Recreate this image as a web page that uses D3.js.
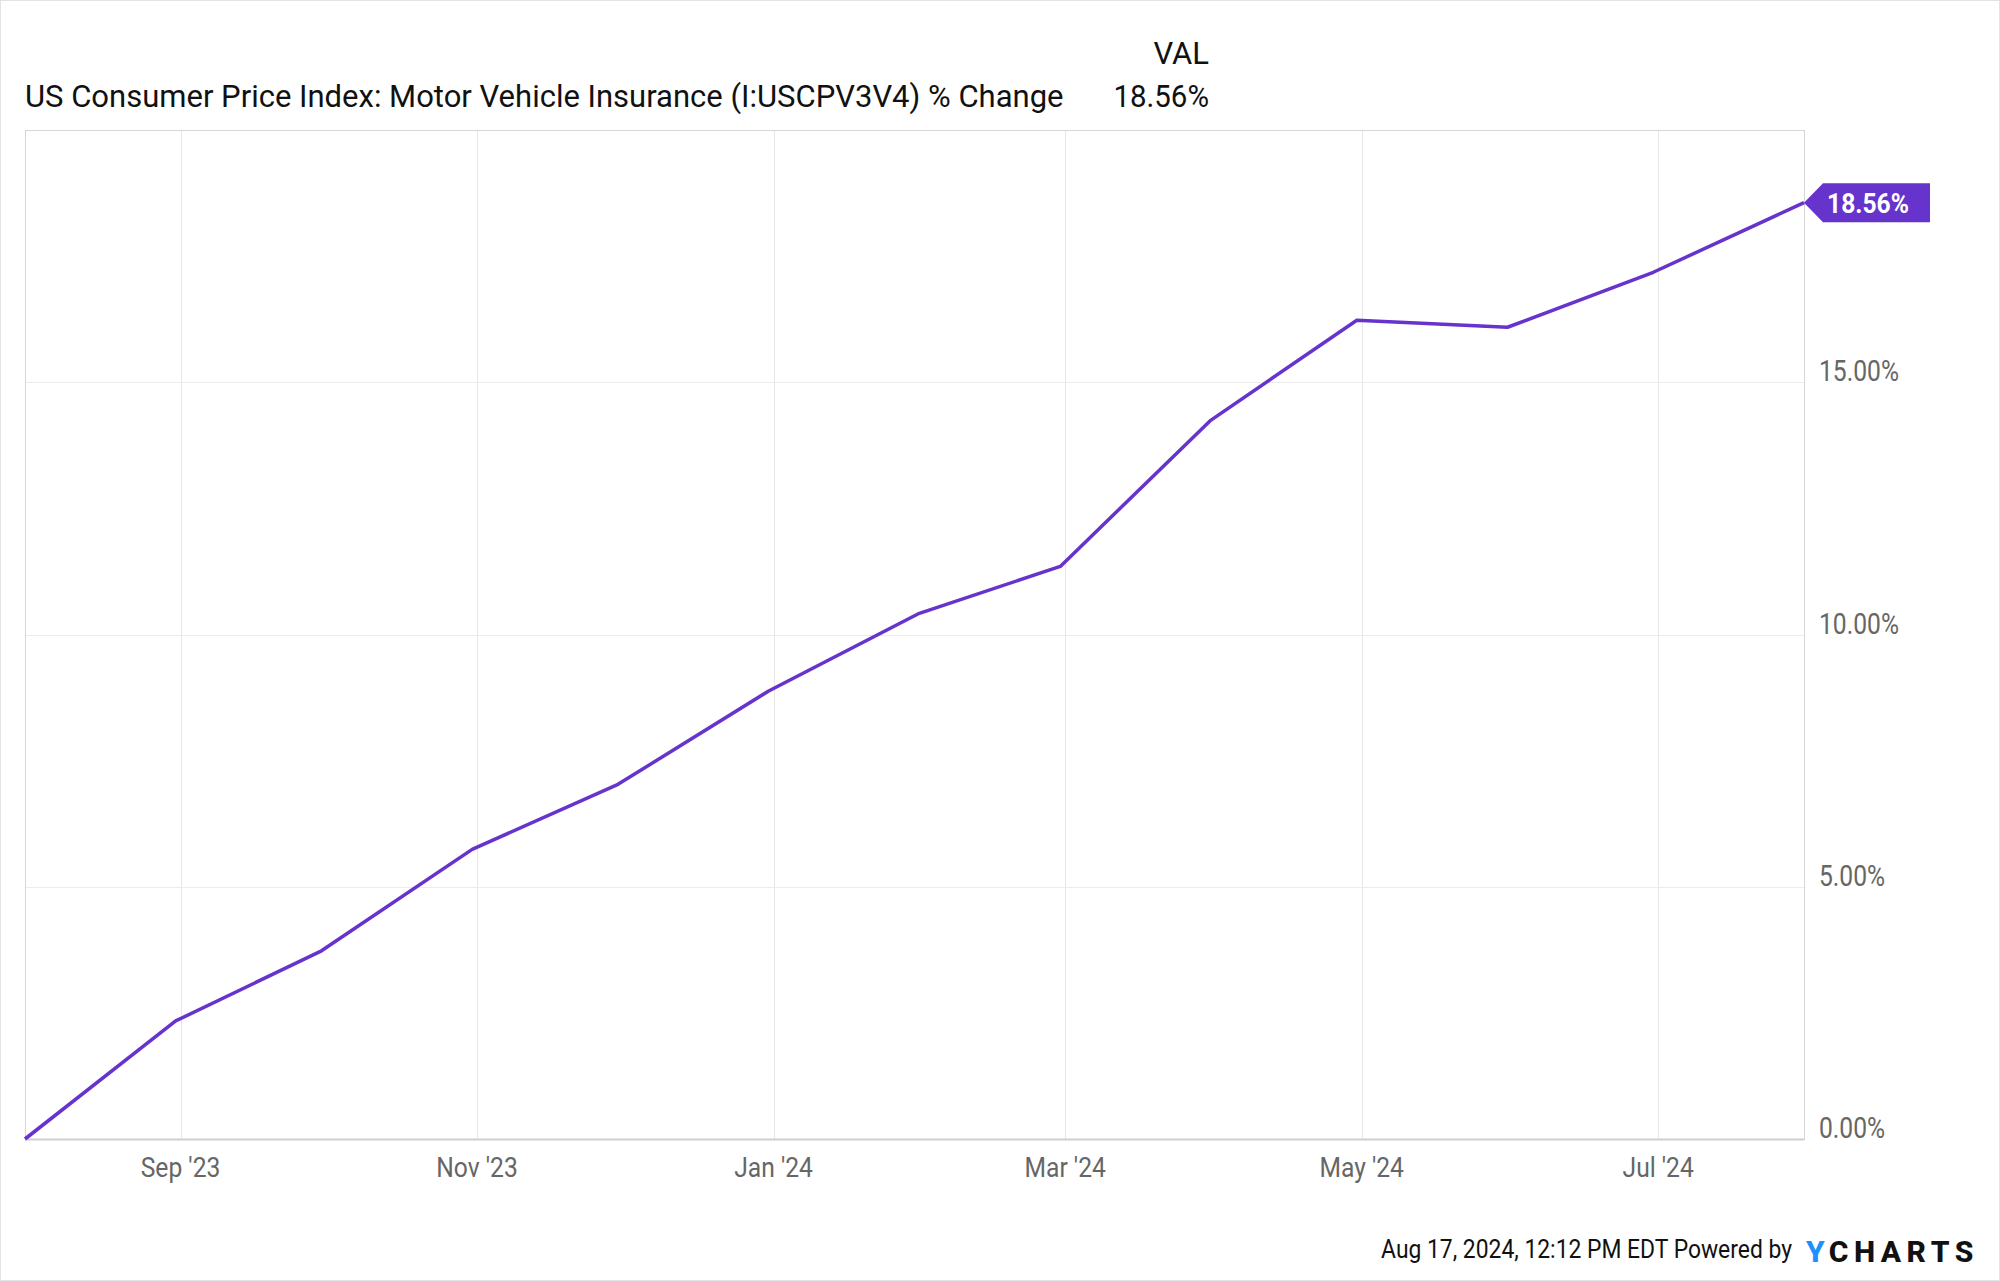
<!DOCTYPE html>
<html>
<head>
<meta charset="utf-8">
<script src="https://cdn.jsdelivr.net/npm/d3@7"></script>
<style>
  html, body { margin: 0; padding: 0; background: #fff; }
  svg { display: block; font-family: Roboto, "Open Sans", sans-serif; }
</style>
</head>
<body>
<div id="chart"></div>
<script>
// chart data (month-end observations)
const dates = ["2023-07-31", "2023-08-31", "2023-09-30", "2023-10-31", "2023-11-30", "2023-12-31",
  "2024-01-31", "2024-02-29", "2024-03-31", "2024-04-30", "2024-05-31", "2024-06-30", "2024-07-31"];
const values = [0, 2.34, 3.73, 5.74, 7.03, 8.88, 10.42, 11.35, 14.25, 16.23, 16.09, 17.18, 18.56];
const yTicks = [0, 5, 10, 15];
const seriesName = "US Consumer Price Index: Motor Vehicle Insurance (I:USCPV3V4) % Change";
const footerText = "Aug 17, 2024, 12:12 PM EDT Powered by";

const width = 2000;
const height = 1281;
const margin = {top: 130, right: 196, bottom: 142, left: 25};
const purple = "#6633cc";

const parse = d3.timeParse("%Y-%m-%d");
const data = dates.map((d, i) => ({date: parse(d), value: values[i]}));

const svg = d3.select("#chart").append("svg")
  .attr("width", width)
  .attr("height", height);

// outer frame
svg.append("rect")
  .attr("x", 0.5).attr("y", 0.5)
  .attr("width", width - 1).attr("height", height - 1)
  .attr("fill", "#fff").attr("stroke", "#e3e3e3");

const x = d3.scaleTime()
  .domain(d3.extent(data, d => d.date))
  .range([margin.left, width - margin.right]);

const y = d3.scaleLinear()
  .domain([0, 20])
  .range([height - margin.bottom, margin.top]);

// squeeze text a bit to look like the condensed face
function condense(sel, k) {
  sel.each(function () {
    const w = this.getComputedTextLength();
    d3.select(this).attr("textLength", w * k).attr("lengthAdjust", "spacingAndGlyphs");
  });
}

// grid
const xTicks = x.ticks(d3.timeMonth.every(2));
svg.append("g")
  .selectAll("line")
  .data(xTicks)
  .join("line")
    .attr("x1", d => Math.round(x(d)) + 0.5)
    .attr("x2", d => Math.round(x(d)) + 0.5)
    .attr("y1", margin.top)
    .attr("y2", height - margin.bottom)
    .attr("stroke", "#e6e6e6");

svg.append("g")
  .selectAll("line")
  .data(yTicks.filter(d => d > 0))
  .join("line")
    .attr("x1", margin.left)
    .attr("x2", width - margin.right)
    .attr("y1", d => Math.round(y(d)) + 0.5)
    .attr("y2", d => Math.round(y(d)) + 0.5)
    .attr("stroke", "#ececec");

// plot frame
svg.append("rect")
  .attr("x", margin.left + 0.5)
  .attr("y", margin.top + 0.5)
  .attr("width", width - margin.left - margin.right)
  .attr("height", height - margin.top - margin.bottom)
  .attr("fill", "none")
  .attr("stroke", "#d6d6d6");

svg.append("line")
  .attr("x1", margin.left).attr("x2", width - margin.right)
  .attr("y1", height - margin.bottom + 0.5).attr("y2", height - margin.bottom + 0.5)
  .attr("stroke", "#cfcfcf").attr("stroke-width", 2);

// x axis labels
const fmtX = d3.timeFormat("%b '%y");
svg.append("g")
  .attr("font-size", 28)
  .attr("fill", "#666")
  .attr("text-anchor", "middle")
  .selectAll("text")
  .data(xTicks)
  .join("text")
    .attr("x", d => x(d))
    .attr("y", height - margin.bottom + 38)
    .text(d => fmtX(d))
    .call(condense, 0.88);

// y axis labels
svg.append("g")
  .attr("font-size", 29)
  .attr("fill", "#666")
  .selectAll("text")
  .data(yTicks)
  .join("text")
    .attr("x", width - margin.right + 15)
    .attr("y", d => y(d) - 1)
    .text(d => d3.format(".2f")(d) + "%")
    .call(condense, 0.85);

// series line
const line = d3.line()
  .x(d => x(d.date))
  .y(d => y(d.value));

svg.append("path")
  .datum(data)
  .attr("fill", "none")
  .attr("stroke", purple)
  .attr("stroke-width", 3.5)
  .attr("stroke-linejoin", "round")
  .attr("d", line);

// last value badge
const last = data[data.length - 1];
const bx = x(last.date), by = y(last.value);
svg.append("path")
  .attr("d", `M${bx},${by} L${bx + 19},${by - 19.5} L${bx + 126},${by - 19.5} L${bx + 126},${by + 19.5} L${bx + 19},${by + 19.5} Z`)
  .attr("fill", purple);
svg.append("text")
  .attr("x", bx + 23)
  .attr("y", by + 10)
  .attr("fill", "#fff")
  .attr("font-size", 28)
  .attr("font-weight", 700)
  .text(d3.format(".2f")(last.value) + "%")
  .call(condense, 0.88);

// header
svg.append("text")
  .attr("x", 1209).attr("y", 64)
  .attr("text-anchor", "end")
  .attr("font-size", 31)
  .attr("fill", "#111")
  .text("VAL");

svg.append("text")
  .attr("x", 25).attr("y", 107)
  .attr("font-size", 31)
  .attr("fill", "#111")
  .text(seriesName);

svg.append("text")
  .attr("x", 1209).attr("y", 107)
  .attr("text-anchor", "end")
  .attr("font-size", 31)
  .attr("fill", "#111")
  .text(d3.format(".2f")(last.value) + "%")
  .call(condense, 0.95);

// footer (narrowed with a transform so its box stays clear of the logo)
svg.append("text")
  .attr("transform", "translate(1792,1258) scale(0.88,1)")
  .attr("text-anchor", "end")
  .attr("font-size", 26)
  .attr("fill", "#111")
  .text(footerText);

// logo: blue Y + black CHARTS as two separate words
const logoY = svg.append("text")
  .attr("x", 1806).attr("y", 1262)
  .attr("font-size", 30)
  .attr("font-weight", 800)
  .attr("fill", "#1e90ff")
  .text("Y");
const yW = logoY.node().getComputedTextLength();
svg.append("text")
  .attr("x", 1806 + yW + 4).attr("y", 1262)
  .attr("font-size", 30)
  .attr("font-weight", 800)
  .attr("letter-spacing", 5.5)
  .attr("fill", "#111")
  .text("CHARTS");
</script>
</body>
</html>
